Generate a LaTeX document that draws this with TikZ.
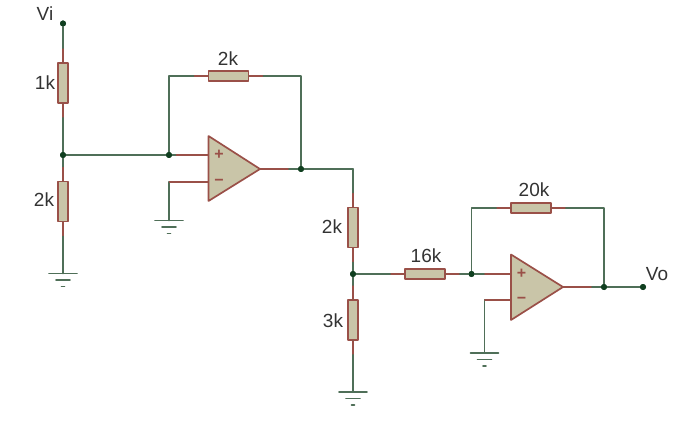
\documentclass[tikz,border=0pt]{standalone}
\usepackage{fontspec}
\setmainfont{Liberation Sans}
\definecolor{wirecol}{HTML}{4F6F58}
\definecolor{pincol}{HTML}{9A5048}
\definecolor{bodycol}{HTML}{C9C5A8}
\definecolor{dotcol}{HTML}{103F20}
\definecolor{textcol}{HTML}{333333}
\tikzset{
	wire/.style={draw=wirecol, line width=1.7pt},
	lead/.style={draw=pincol, line width=1.7pt},
	resh/.style={draw=pincol, fill=bodycol, line width=1.7pt, inner sep=0pt,
		minimum width=40pt, minimum height=10.5pt},
	resv/.style={draw=pincol, fill=bodycol, line width=1.7pt, inner sep=0pt,
		minimum width=10.5pt, minimum height=40pt},
	lab/.style={text=textcol, inner sep=0pt, font=\fontsize{19}{21}\selectfont},
	sign/.style={text=pincol, inner sep=0pt, font=\fontsize{16}{16}\selectfont\bfseries},
	dot/.style={circle, fill=dotcol, inner sep=0pt, minimum size=6pt}
}
\begin{document}
\begin{tikzpicture}[x=1pt, y=-1pt, line join=round, line cap=round]
	\useasboundingbox (0,0) rectangle (700,427);
	% junctions and end points
	\node[dot] (Vi) at (63,23.5) {};
	\node[dot] (J1) at (63,155) {};
	\node[dot] (J2) at (169,155) {};
	\node[dot] (J3) at (301,169) {};
	\node[dot] (J4) at (353,274) {};
	\node[dot] (J5) at (471.5,274) {};
	\node[dot] (J6) at (604,287) {};
	\node[dot] (Vo) at (643,287) {};
	\path
	(63,273.5) coordinate (G1)
	(169,220.5) coordinate (G2)
	(353,392) coordinate (G3)
	(484.5,353) coordinate (G4)
	(353,169) coordinate (K1)
	(169,182) coordinate (K2)
	(484.5,300) coordinate (K3)
	(169,76) coordinate (F1)
	(301,76) coordinate (F2)
	(471.5,208) coordinate (F3)
	(604,208) coordinate (F4)
	% first amplifier
	(208.5,136) coordinate (A1)
	(208.5,201) coordinate (A2)
	(260,169) coordinate (A3)
	(208.5,155) coordinate (A4)
	(208.5,182) coordinate (A5)
	% second amplifier
	(511,254.5) coordinate (B1)
	(511,320) coordinate (B2)
	(563,287) coordinate (B3)
	(511,274) coordinate (B4)
	(511,300) coordinate (B5);
	% resistors
	\node[resv] (R1) at (63,83) {};
	\node[resv] (R2) at (63,201.5) {};
	\node[resh] (R3) at (228.5,76) {};
	\node[resv] (R4) at (353,227.5) {};
	\node[resv] (R5) at (353,320) {};
	\node[resh] (R6) at (425,274) {};
	\node[resh] (R7) at (531,208) {};
	% wires
	\foreach \p/\q in
	{Vi/R1.north,R1.south/J1,J1/R2.north,R2.south/G1,J1/J2,J2/A4,
	J3/K1,K1/R4.north,R4.south/J4,J4/R5.north,R5.south/G3,J4/R6.west,
	R6.east/J5,J5/B4,J6/Vo,A3/J3,B3/J6}
	\draw[wire] (\p)--(\q);
	\draw[wire] (J2)--(F1)--(R3.west) (R3.east)--(F2)--(J3);
	\draw[wire] (J5)--(F3)--(R7.west) (R7.east)--(F4)--(J6);
	\draw[wire] (G2)--(K2)--(A5);
	\draw[wire] (G4)--(K3)--(B5);
	% red pins
	\foreach \p/\a in
	{R1.north/-90,R1.south/90,R2.north/-90,R2.south/90,R3.west/180,R3.east/0,
	R4.north/-90,R4.south/90,R5.north/-90,R5.south/90,R6.west/180,R6.east/0,
	R7.west/180,R7.east/0}
	\draw[lead] (\p)--++(\a:13);
	\foreach \p/\a/\l in {A4/180/32,A5/180/39,A3/0/28,B4/180/26,B5/180/26,B3/0/28}
	\draw[lead] (\p)--++(\a:\l);
	% amplifiers
	\draw[lead, fill=bodycol] (A1)--(A3)--(A2)--cycle;
	\draw[lead, fill=bodycol] (B1)--(B3)--(B2)--cycle;
	\node[sign] (Pa) at (219,155) {+};
	\node[sign] (Ma) at (219,182) {−};
	\node[sign] (Pb) at (521.5,274) {+};
	\node[sign] (Mb) at (521.5,300) {−};
	% grounds
	\foreach \g in {G1,G2,G3,G4}
	\draw[wire] (\g)++(-14,0)--++(28,0) (\g)++(-7,6.5)--++(14,0) (\g)++(-1.5,13)--++(3,0);
	% redraw dots above the pins
	\foreach \p in {Vi,J1,J2,J3,J4,J5,J6,Vo}
	\node[dot] at (\p) {};
	% labels
	\node[lab] (Lvi) at (45,14) {Vi};
	\node[lab] (Lvo) at (657,274) {Vo};
	\node[lab] (L1) at (45,83) {1k};
	\node[lab] (L2) at (44,200) {2k};
	\node[lab] (L3) at (228,59) {2k};
	\node[lab] (L4) at (332,227) {2k};
	\node[lab] (L5) at (333,321) {3k};
	\node[lab] (L6) at (426,256) {16k};
	\node[lab] (L7) at (534,190) {20k};
\end{tikzpicture}
\end{document}
